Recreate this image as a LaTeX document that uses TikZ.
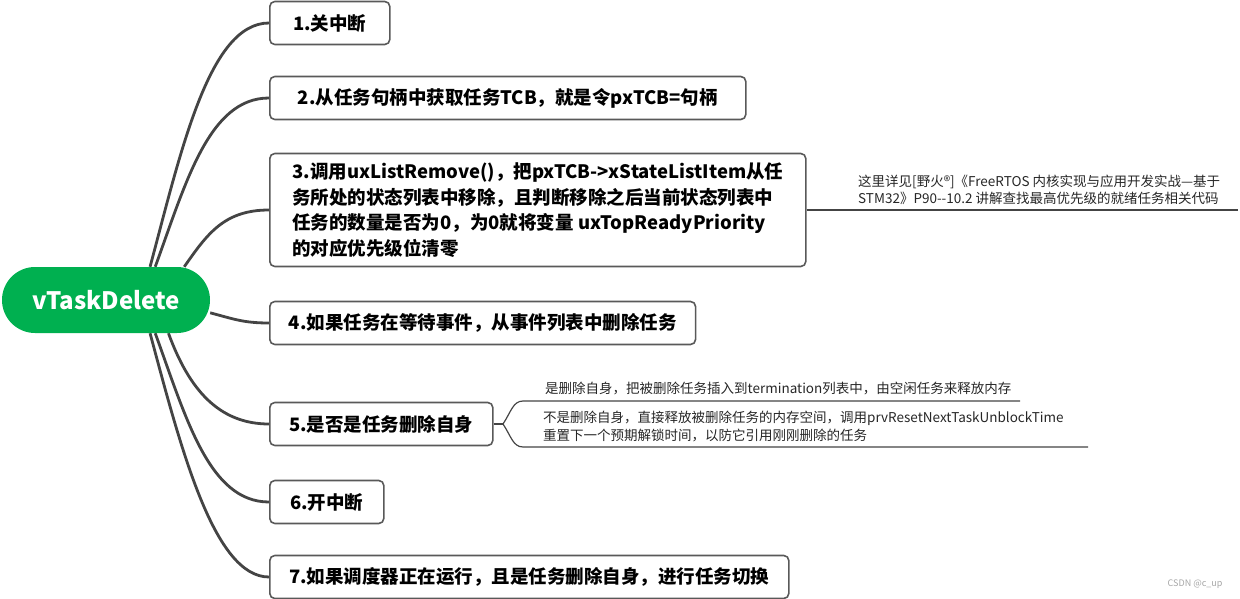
\documentclass[tikz,border=0pt]{standalone}
\usepackage{fontspec}
\setmainfont{Noto Sans CJK SC}
\usetikzlibrary{backgrounds}
\definecolor{rootgreen}{RGB}{0,176,80}
\definecolor{linegray}{RGB}{68,68,68}
\definecolor{boxgray}{RGB}{89,89,89}

\begin{document}
\begin{tikzpicture}[x=1pt,y=-1pt,
    root/.style={fill=rootgreen, rounded corners=33pt, minimum width=208pt, minimum height=66pt,
      text=white, font=\fontsize{24}{28}\selectfont\bfseries},
    box/.style={draw=boxgray, line width=1.6pt, rounded corners=5pt, anchor=west, minimum height=43pt,
      inner xsep=19pt, inner ysep=9pt, align=left, font=\fontsize{18.5}{25.7}\selectfont\bfseries},
    note/.style={anchor=west, inner sep=0pt, align=left, text=black!85, font=\fontsize{13.5}{17}\selectfont},
    branch/.style={draw=linegray, line width=2.8pt},
    leaf/.style={draw=linegray, line width=1.2pt}]
    \useasboundingbox (0,0) rectangle (1240,599);

    % Root
    \node[root] (root) at (106,300) {vTaskDelete};

    % Steps
    \foreach \n/\y/\w/\t in {1/23/120/{1.关中断},
        2/98/476/{2.从任务句柄中获取任务TCB，就是令pxTCB=句柄},
        3/210/536/{3.调用uxListRemove()，把pxTCB->xStateListItem从任\\务所处的状态列表中移除，且判断移除之后当前状态列表中\\任务的数量是否为0，为0就将变量 uxTopReadyPriority\\的对应优先级位清零},
        4/323/425/{4.如果任务在等待事件，从事件列表中删除任务},
        5/424/223/{5.是否是任务删除自身},
        6/502/114/{6.开中断},
        7/577/519/{7.如果调度器正在运行，且是任务删除自身，进行任务切换}}
        \node[box, minimum width=\w] (b\n) at (269,\y) {\t};

    % Branches from the root
    \begin{scope}[on background layer]
        \foreach \n/\a/\o/\i in {1/37/75:120pt/60, 2/34/70:90pt/60, 3/23/55:40pt/45, 4/353/-15:25pt/25,
            5/332/-70:60pt/50, 6/326/-70:90pt/60, 7/323/-75:120pt/55}
            \draw[branch] (root.\a) .. controls +(\o) and +(-\i,0) .. (b\n.west);
    \end{scope}

    % Note of step 3
    \node[note] (n3) at (858,190) {这里详见[野火®]《FreeRTOS 内核实现与应用开发实战—基于\\STM32》P90-\kern0pt-10.2 讲解查找最高优先级的就绪任务相关代码};
    \coordinate (n3end) at (1238,210);
    \draw[leaf] (b3.east) -- (n3end);

    % Notes of step 5
    \node[note] (n5a) at (545,389) {是删除自身，把被删除任务插入到termination列表中，由空闲任务来释放内存};
    \node[note, font=\fontsize{13.5}{18}\selectfont] (n5b) at (543,427) {不是删除自身，直接释放被删除任务的内存空间，调用prvResetNextTaskUnblockTime\\重置下一个预期解锁时间，以防它引用刚刚删除的任务};
    \coordinate (f5) at (503,424);
    \coordinate (u5) at (523,401);
    \coordinate (u5end) at (1020,401);
    \coordinate (l5) at (523,447);
    \coordinate (l5end) at (1088,447);
    \draw[leaf] (b5.east) -- (f5);
    \draw[leaf] (f5) .. controls +(8,-12) and +(-10,0) .. (u5) -- (u5end);
    \draw[leaf] (f5) .. controls +(8,12) and +(-10,0) .. (l5) -- (l5end);

    \node[anchor=east, text=gray!70, font=\fontsize{9}{10}\selectfont] (mark) at (1226,584) {CSDN @c\_up};
\end{tikzpicture}
\end{document}
